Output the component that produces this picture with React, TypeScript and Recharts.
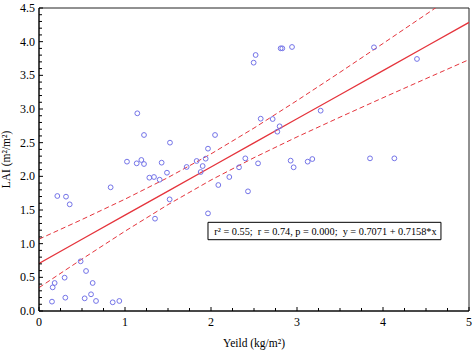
import React from 'react';
import { ComposedChart, Scatter, Line, XAxis, YAxis, ReferenceArea } from 'recharts';

// observed points (Yeild, LAI)
const yieldValues = [
  0.151, 0.159, 0.182, 0.213, 0.298, 0.306, 0.314, 0.357, 0.484, 0.531, 0.547, 0.605, 0.624, 0.663,
  0.833, 0.857, 0.934, 1.023, 1.136, 1.143, 1.19, 1.221, 1.221, 1.283, 1.337, 1.349, 1.403, 1.426,
  1.488, 1.519, 1.523, 1.717, 1.833, 1.88, 1.903, 1.938, 1.965, 1.965, 2.047, 2.085, 2.213, 2.326,
  2.399, 2.43, 2.496, 2.519, 2.547, 2.578, 2.717, 2.771, 2.798, 2.81, 2.829, 2.926, 2.942, 2.961,
  3.124, 3.178, 3.275, 3.849, 3.895, 4.132, 4.395,
];
const laiValues = [
  0.139, 0.351, 0.416, 1.708, 0.495, 0.198, 1.698, 1.584, 0.738, 0.188, 0.594, 0.248, 0.416, 0.149,
  1.837, 0.129, 0.149, 2.218, 2.193, 2.936, 2.243, 2.183, 2.614, 1.98, 1.99, 1.371, 1.95, 2.203,
  2.054, 1.658, 2.5, 2.139, 2.228, 2.064, 2.153, 2.262, 2.411, 1.45, 2.614, 1.871, 1.99, 2.134,
  2.267, 1.777, 3.688, 3.802, 2.193, 2.856, 2.851, 2.663, 2.743, 3.901, 3.901, 2.233, 3.921, 2.134,
  2.218, 2.257, 2.975, 2.267, 3.916, 2.267, 3.743,
];

// fitted line and 95% band, read along x
const fitX = [0, 0.5, 1, 1.5, 2, 2.5, 3, 3.5, 4, 4.5, 5];
const fitY = [0.707, 1.065, 1.423, 1.781, 2.139, 2.497, 2.855, 3.212, 3.57, 3.928, 4.286];
const upperY = [1.067, 1.359, 1.661, 1.982, 2.333, 2.717, 3.125, 3.545, 3.973, 4.405, 4.839];
const lowerY = [0.347, 0.771, 1.185, 1.58, 1.945, 2.277, 2.585, 2.879, 3.167, 3.451, 3.733];

const xMajorTicks = [0, 1, 2, 3, 4, 5];
const xMinorTicks = [0, 0.25, 0.5, 0.75, 1, 1.25, 1.5, 1.75, 2, 2.25, 2.5, 2.75, 3, 3.25, 3.5, 3.75, 4, 4.25, 4.5, 4.75, 5];
const yMajorTicks = [0, 0.5, 1, 1.5, 2, 2.5, 3, 3.5, 4, 4.5];
const yMinorTicks = [
  0, 0.1, 0.2, 0.3, 0.4, 0.5, 0.6, 0.7, 0.8, 0.9, 1, 1.1, 1.2, 1.3, 1.4, 1.5, 1.6, 1.7, 1.8, 1.9,
  2, 2.1, 2.2, 2.3, 2.4, 2.5, 2.6, 2.7, 2.8, 2.9, 3, 3.1, 3.2, 3.3, 3.4, 3.5, 3.6, 3.7, 3.8, 3.9,
  4, 4.1, 4.2, 4.3, 4.4, 4.5,
];

const xLabel = 'Yeild (kg/m²)';
const yLabel = 'LAI (m²/m²)';
const statsText = 'r² = 0.55;  r = 0.74, p = 0.000;  y = 0.7071 + 0.7158*x';
const statsBox = { x1: 1.965, x2: 4.674, y1: 1.059, y2: 1.317 };

const points = yieldValues.map((x, i) => ({ x, y: laiValues[i] }));
const fitData = fitX.map((x, i) => ({ x, y: fitY[i] }));
const upperData = fitX.map((x, i) => ({ x, y: upperY[i] }));
const lowerData = fitX.map((x, i) => ({ x, y: lowerY[i] }));

const FONT = '"Liberation Serif", "Times New Roman", serif';
const RED = '#e5343c';

const isIn = (arr: number[], v: number) => arr.some((a) => Math.abs(a - v) < 1e-6);

const XTick = (props: any) => {
  const { x, y, payload } = props;
  const v = payload.value;
  const major = isIn(xMajorTicks, v);
  return (
    <g>
      <line x1={x} x2={x} y1={y} y2={y - (major ? 4 : 3)} stroke="#000" strokeWidth={1} />
      {major && (
        <text x={x} y={y + 15} textAnchor="middle" fontSize={12} fontFamily={FONT} fill="#000">
          {String(v)}
        </text>
      )}
    </g>
  );
};

const YTick = (props: any) => {
  const { x, y, payload } = props;
  const v = payload.value;
  const major = isIn(yMajorTicks, v);
  return (
    <g>
      <line x1={x} x2={x + (major ? 4 : 3)} y1={y} y2={y} stroke="#000" strokeWidth={1} />
      {major && (
        <text x={x - 4} y={y + 4} textAnchor="end" fontSize={12} fontFamily={FONT} fill="#000">
          {v.toFixed(1)}
        </text>
      )}
    </g>
  );
};

const Circle = (props: any) => {
  const { cx, cy } = props;
  if (cx == null || cy == null) return null;
  return <circle cx={cx} cy={cy} r={2.4} fill="none" stroke="#7474e8" strokeWidth={1} />;
};

const StatsLabel = (props: any) => {
  const vb = props.viewBox || {};
  const cx = vb.x + vb.width / 2;
  const cy = vb.y + vb.height / 2;
  return (
    <text x={cx + 1} y={cy + 4} textAnchor="middle" fontSize={10.3} fontFamily={FONT} fill="#000" style={{ whiteSpace: 'pre' }}>
      {statsText}
    </text>
  );
};

export default function App() {
  return (
    <div style={{ position: 'absolute', left: 0, top: 0 }}>
      <ComposedChart width={474} height={351} margin={{ top: 8, right: 5, bottom: 0, left: 0 }}>
        <XAxis
          type="number"
          dataKey="x"
          domain={[0, 5]}
          ticks={xMinorTicks}
          interval={0}
          tickSize={0}
          tickMargin={0}
          tick={<XTick />}
          tickLine={false}
          height={40}
          axisLine={{ stroke: '#000' }}
          allowDataOverflow
          label={{ value: xLabel, position: 'insideBottom', offset: 4, fontSize: 11.5, fontFamily: FONT, fill: '#000' }}
        />
        <YAxis
          type="number"
          domain={[0, 4.5]}
          ticks={yMinorTicks}
          interval={0}
          tickSize={0}
          tickMargin={0}
          tick={<YTick />}
          tickLine={false}
          width={39}
          axisLine={{ stroke: '#000' }}
          allowDataOverflow
          label={{ value: yLabel, angle: -90, position: 'insideLeft', offset: 0, dx: 6, fontSize: 11.5, fontFamily: FONT, fill: '#000', style: { textAnchor: 'middle' } }}
        />
        <ReferenceArea x1={0} x2={5} y1={0} y2={4.5} fill="none" stroke="#222" strokeWidth={1} />
        <Line data={upperData} dataKey="y" type="linear" stroke={RED} strokeWidth={1} strokeDasharray="5 3" dot={false} isAnimationActive={false} />
        <Line data={lowerData} dataKey="y" type="linear" stroke={RED} strokeWidth={1} strokeDasharray="5 3" dot={false} isAnimationActive={false} />
        <Line data={fitData} dataKey="y" type="linear" stroke={RED} strokeWidth={1.3} dot={false} isAnimationActive={false} />
        <Scatter data={points} dataKey="y" shape={<Circle />} isAnimationActive={false} />
        <ReferenceArea
          x1={statsBox.x1}
          x2={statsBox.x2}
          y1={statsBox.y1}
          y2={statsBox.y2}
          fill="#fff"
          fillOpacity={1}
          stroke="#000"
          strokeWidth={1}
          label={<StatsLabel />}
        />
      </ComposedChart>
    </div>
  );
}
